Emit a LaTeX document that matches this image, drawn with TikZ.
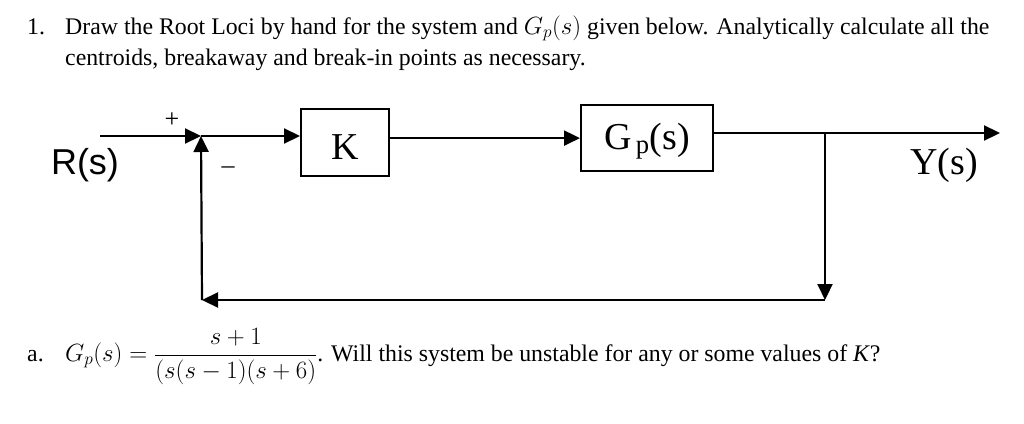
\documentclass[tikz,border=0pt]{standalone}
\usepackage{fontspec}
\setmainfont{Liberation Serif}
\newfontfamily\arialf{Liberation Sans}
\usetikzlibrary{arrows.meta}
\begin{document}
\begin{tikzpicture}[x=1pt,y=-1pt,
  blk/.style={draw,line width=2.2pt,inner sep=0},
  wire/.style={line width=2.2pt},
  arr/.style={wire,-{Triangle[length=16pt,width=15pt]}},
  txt/.style={anchor=base west,inner sep=0,font=\fontsize{23.8}{28}\selectfont}]
\useasboundingbox (0,0) rectangle (1024,423);
\node[txt] (n1) at (27,34) {1.};
\node[txt] (l1) at (65,34) {Draw the Root Loci by hand for the system and $G_p(s)$ given below. Analytically calculate all the};
\node[txt] (l2) at (65,65) {centroids, breakaway and break-in points as necessary.};
\node[blk,minimum width=88pt,minimum height=67pt,anchor=north west] (K) at (300,108) {};
\node[font=\fontsize{38}{42}\selectfont] at ([yshift=-4pt]K.center) {K};
\node[blk,minimum width=132pt,minimum height=66pt,anchor=north west] (G) at (580,104) {};
\node[font=\fontsize{38}{42}\selectfont] at ([yshift=-3pt]G.center) {G$_{\,\mathrm{p}}$(s)};
\coordinate (sum) at (201,136);
\coordinate (in) at (100,136);
\coordinate (tap) at (825,133);
\coordinate (out) at (1000,133);
\coordinate (fb) at (825,300);
\coordinate (fbl) at (202,300);
\draw[arr] (in) -- (sum);
\draw[arr] (sum) -- (K.west|-sum);
\draw[arr] (K.east|-G.west) -- (G.west);
\draw[arr] (G.east|-tap) -- (out);
\draw[arr] (tap) -- (fb);
\draw[arr] (fb) -- (fbl);
\draw[arr] (fbl) -- (sum);
\node[font=\fontsize{26}{28}\selectfont] (p) at (172,120) {+};
\node[font=\fontsize{26}{28}\selectfont] (m) at (228,170) {--};
\node[font=\arialf\fontsize{36}{40}\selectfont] (R) at (85,165) {R(s)};
\node[font=\fontsize{38}{42}\selectfont] (Y) at (944,165) {Y(s)};
\node[txt] (a) at (27,361) {a.};
\node[txt] (eq) at (65,361) {$G_p(s)=\displaystyle\frac{\textstyle s+1}{\textstyle (s(s-1)(s+6)}$. Will this system be unstable for any or some values of \textit{K}?};
\end{tikzpicture}
\end{document}
